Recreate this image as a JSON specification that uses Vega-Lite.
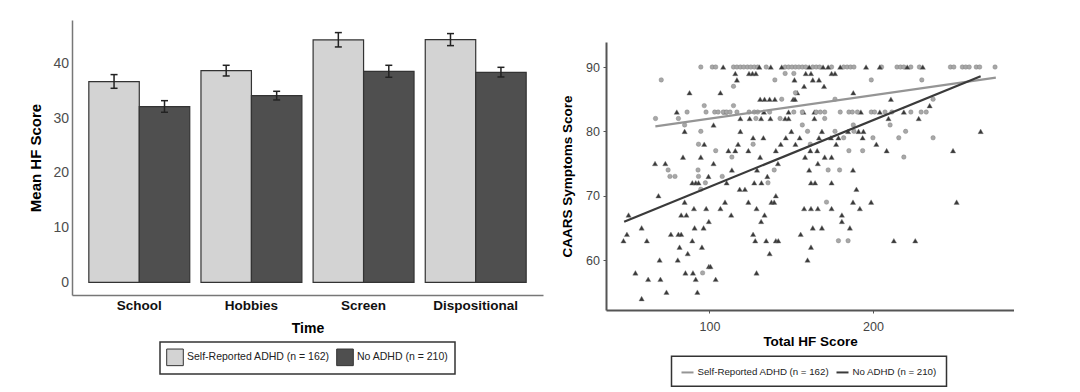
{
"$schema": "https://vega.github.io/schema/vega-lite/v6.json",
"background": "white",
"padding": {"left": 28, "top": 20, "right": 0, "bottom": 0},
"spacing": 17,
"config": {"view": {"stroke": null}, "font": "Liberation Sans", "axis": {"grid": false}},
"resolve": {"scale": {"color": "independent", "fill": "independent", "stroke": "independent"}, "legend": {"color": "independent", "fill": "independent", "stroke": "independent"}},
"datasets": {
"bars": [
{"time":"School","group":"Self-Reported ADHD (n = 162)","mean":36.65,"lo":35.43,"hi":37.93},
{"time":"School","group":"No ADHD (n = 210)","mean":32.08,"lo":31.05,"hi":33.17},
{"time":"Hobbies","group":"Self-Reported ADHD (n = 162)","mean":38.65,"lo":37.68,"hi":39.63},
{"time":"Hobbies","group":"No ADHD (n = 210)","mean":34.09,"lo":33.3,"hi":34.88},
{"time":"Screen","group":"Self-Reported ADHD (n = 162)","mean":44.26,"lo":42.98,"hi":45.6},
{"time":"Screen","group":"No ADHD (n = 210)","mean":38.53,"lo":37.44,"hi":39.63},
{"time":"Dispositional","group":"Self-Reported ADHD (n = 162)","mean":44.32,"lo":43.22,"hi":45.42},
{"time":"Dispositional","group":"No ADHD (n = 210)","mean":38.35,"lo":37.5,"hi":39.26}
],
"fits": [
{"x":66.9,"y":80.78,"g":"ADHD"},
{"x":275.2,"y":88.34,"g":"ADHD"},
{"x":47.8,"y":65.96,"g":"No ADHD"},
{"x":265.9,"y":88.55,"g":"No ADHD"}
],
"spacer": [{"s": 1}],
"scatter": [
{"x":94.7,"y":90,"g":"A"},{"x":101.7,"y":90,"g":"A"},{"x":103.8,"y":90,"g":"A"},{"x":114.7,"y":90,"g":"A"},{"x":116.8,"y":90,"g":"A"},{"x":118.9,"y":90,"g":"A"},{"x":121,"y":90,"g":"A"},{"x":123.2,"y":90,"g":"A"},{"x":125.3,"y":90,"g":"A"},{"x":127.4,"y":90,"g":"A"},{"x":129.5,"y":90,"g":"A"},{"x":134.7,"y":90,"g":"A"},{"x":146.3,"y":90,"g":"A"},{"x":148.4,"y":90,"g":"A"},{"x":150.5,"y":90,"g":"A"},{"x":152.6,"y":90,"g":"A"},{"x":154.7,"y":90,"g":"A"},{"x":156.8,"y":90,"g":"A"},{"x":158.9,"y":90,"g":"A"},{"x":163.2,"y":90,"g":"A"},{"x":165.3,"y":90,"g":"A"},{"x":167.4,"y":90,"g":"A"},{"x":174.7,"y":90,"g":"A"},{"x":182.1,"y":90,"g":"A"},{"x":184.2,"y":90,"g":"A"},{"x":186.3,"y":90,"g":"A"},{"x":188.4,"y":90,"g":"A"},{"x":205.3,"y":90,"g":"A"},{"x":214.7,"y":90,"g":"A"},{"x":216.8,"y":90,"g":"A"},{"x":218.9,"y":90,"g":"A"},{"x":223.2,"y":90,"g":"A"},{"x":228.4,"y":90,"g":"A"},{"x":247.4,"y":90,"g":"A"},{"x":249.5,"y":90,"g":"A"},{"x":254.7,"y":90,"g":"A"},{"x":256.8,"y":90,"g":"A"},{"x":258.9,"y":90,"g":"A"},{"x":263.2,"y":90,"g":"A"},{"x":265.3,"y":90,"g":"A"},{"x":274.7,"y":90,"g":"A"},
{"x":108.4,"y":90,"g":"N"},{"x":130.5,"y":90,"g":"N"},{"x":137.5,"y":90,"g":"N"},{"x":144.2,"y":90,"g":"N"},{"x":161,"y":90,"g":"N"},{"x":169.5,"y":90,"g":"N"},{"x":172.6,"y":90,"g":"N"},{"x":180,"y":90,"g":"N"},{"x":195.8,"y":90,"g":"N"},{"x":204.2,"y":90,"g":"N"},{"x":221,"y":90,"g":"N"},{"x":230.5,"y":90,"g":"N"},
{"x":115.8,"y":89,"g":"N"},{"x":124.2,"y":89,"g":"N"},{"x":126.3,"y":89,"g":"N"},{"x":128.4,"y":89,"g":"N"},{"x":158.9,"y":89,"g":"N"},{"x":162.1,"y":89,"g":"N"},{"x":174.7,"y":89,"g":"N"},{"x":176.8,"y":89,"g":"N"},{"x":146.3,"y":89,"g":"A"},{"x":151.6,"y":89,"g":"A"},
{"x":70.5,"y":88,"g":"A"},{"x":140,"y":88,"g":"A"},{"x":199,"y":88,"g":"A"},{"x":229.9,"y":88,"g":"A"},{"x":116.8,"y":88,"g":"N"},{"x":152,"y":88,"g":"N"},{"x":163.2,"y":88,"g":"N"},{"x":167,"y":88,"g":"N"},
{"x":114.7,"y":87,"g":"A"},{"x":157.9,"y":87,"g":"N"},{"x":170.1,"y":87,"g":"N"},
{"x":87.8,"y":86,"g":"N"},{"x":106.7,"y":86,"g":"N"},{"x":153.7,"y":86,"g":"N"},{"x":188,"y":86,"g":"N"},{"x":152.6,"y":86,"g":"A"},
{"x":131,"y":85,"g":"N"},{"x":133.7,"y":85,"g":"N"},{"x":136.8,"y":85,"g":"N"},{"x":140,"y":85,"g":"N"},{"x":151.2,"y":85,"g":"N"},{"x":152.3,"y":85,"g":"N"},{"x":211,"y":85,"g":"N"},{"x":144.2,"y":85,"g":"A"},{"x":176.8,"y":85,"g":"A"},{"x":236.8,"y":85,"g":"A"},
{"x":96.8,"y":84,"g":"A"},{"x":114.7,"y":84,"g":"A"},{"x":234.7,"y":84,"g":"N"},
{"x":80,"y":83,"g":"N"},{"x":109.5,"y":83,"g":"N"},{"x":133.3,"y":83,"g":"N"},{"x":148.4,"y":83,"g":"N"},{"x":157.5,"y":83,"g":"N"},{"x":164.2,"y":83,"g":"N"},{"x":192.6,"y":83,"g":"N"},{"x":204.2,"y":83,"g":"N"},{"x":218.9,"y":83,"g":"N"},
{"x":86.3,"y":83,"g":"A"},{"x":97.9,"y":83,"g":"A"},{"x":103.2,"y":83,"g":"A"},{"x":105.3,"y":83,"g":"A"},{"x":108.4,"y":83,"g":"A"},{"x":110.5,"y":83,"g":"A"},{"x":112.6,"y":83,"g":"A"},{"x":116.8,"y":83,"g":"A"},{"x":124.2,"y":83,"g":"A"},{"x":127.4,"y":83,"g":"A"},{"x":129.5,"y":83,"g":"A"},{"x":136.8,"y":83,"g":"A"},{"x":151.6,"y":83,"g":"A"},{"x":156.8,"y":83,"g":"A"},{"x":165.3,"y":83,"g":"A"},{"x":167.8,"y":83,"g":"A"},{"x":170.5,"y":83,"g":"A"},{"x":180,"y":83,"g":"A"},{"x":185.3,"y":83,"g":"A"},{"x":187.4,"y":83,"g":"A"},{"x":190.5,"y":83,"g":"A"},{"x":199,"y":83,"g":"A"},{"x":201,"y":83,"g":"A"},{"x":207.4,"y":83,"g":"A"},{"x":211.6,"y":83,"g":"A"},{"x":223.2,"y":83,"g":"A"},{"x":229.5,"y":83,"g":"A"},{"x":232.6,"y":83,"g":"A"},
{"x":67,"y":82,"g":"A"},{"x":81,"y":82,"g":"A"},{"x":128.4,"y":82,"g":"A"},{"x":143.2,"y":82,"g":"A"},{"x":170.5,"y":82,"g":"A"},
{"x":118.9,"y":82,"g":"N"},{"x":124.6,"y":82,"g":"N"},{"x":131.6,"y":82,"g":"N"},{"x":137.3,"y":82,"g":"N"},{"x":146.3,"y":82,"g":"N"},{"x":148.4,"y":82,"g":"N"},{"x":164.2,"y":82,"g":"N"},{"x":209.5,"y":82,"g":"N"},{"x":228,"y":82,"g":"N"},
{"x":84.8,"y":81,"g":"A"},{"x":156.8,"y":81,"g":"A"},{"x":188,"y":81,"g":"A"},{"x":210.5,"y":81,"g":"A"},{"x":102.5,"y":81,"g":"N"},
{"x":84.8,"y":80,"g":"N"},{"x":118.9,"y":80,"g":"N"},{"x":150.1,"y":80,"g":"N"},{"x":168.8,"y":80,"g":"N"},{"x":184.8,"y":80,"g":"N"},{"x":191.2,"y":80,"g":"N"},{"x":194.2,"y":80,"g":"N"},{"x":265.9,"y":80,"g":"N"},
{"x":94.7,"y":80,"g":"A"},{"x":160,"y":80,"g":"A"},{"x":176.8,"y":80,"g":"A"},{"x":188.4,"y":80,"g":"A"},{"x":220,"y":80,"g":"A"},
{"x":126.7,"y":79,"g":"N"},{"x":133,"y":79,"g":"N"},{"x":146.7,"y":79,"g":"N"},{"x":155.2,"y":79,"g":"N"},{"x":167,"y":79,"g":"N"},{"x":174.3,"y":79,"g":"N"},{"x":178.9,"y":79,"g":"N"},{"x":193.7,"y":79,"g":"N"},
{"x":182.1,"y":79,"g":"A"},{"x":200,"y":79,"g":"A"},{"x":215.8,"y":79,"g":"A"},{"x":236.8,"y":79,"g":"A"},
{"x":93.3,"y":78,"g":"A"},{"x":126.7,"y":78,"g":"A"},{"x":161.7,"y":78,"g":"A"},
{"x":96.8,"y":78,"g":"N"},{"x":117.5,"y":78,"g":"N"},{"x":143.6,"y":78,"g":"N"},{"x":152.6,"y":78,"g":"N"},{"x":177.5,"y":78,"g":"N"},{"x":202.1,"y":78,"g":"N"},
{"x":103.8,"y":77,"g":"A"},{"x":185.3,"y":77,"g":"A"},{"x":193.7,"y":77,"g":"A"},
{"x":111.6,"y":77,"g":"N"},{"x":115.8,"y":77,"g":"N"},{"x":123.8,"y":77,"g":"N"},{"x":140.6,"y":77,"g":"N"},{"x":161.7,"y":77,"g":"N"},{"x":165.9,"y":77,"g":"N"},{"x":208.4,"y":77,"g":"N"},{"x":249,"y":77,"g":"N"},
{"x":83.8,"y":76,"g":"N"},{"x":94.7,"y":76,"g":"N"},{"x":131,"y":76,"g":"N"},{"x":158.5,"y":76,"g":"N"},{"x":170.5,"y":76,"g":"N"},{"x":174.7,"y":76,"g":"N"},{"x":113.7,"y":76,"g":"A"},{"x":218.9,"y":76,"g":"A"},
{"x":66.7,"y":75,"g":"N"},{"x":73,"y":75,"g":"N"},{"x":102.5,"y":75,"g":"N"},{"x":141.9,"y":75,"g":"N"},{"x":166.3,"y":75,"g":"N"},
{"x":74.7,"y":74,"g":"A"},{"x":93,"y":74,"g":"A"},{"x":139.6,"y":74,"g":"A"},{"x":172.6,"y":74,"g":"A"},{"x":179.6,"y":74,"g":"A"},
{"x":113.7,"y":74,"g":"N"},{"x":129.1,"y":74,"g":"N"},{"x":161,"y":74,"g":"N"},{"x":187.8,"y":74,"g":"N"},
{"x":75.8,"y":73,"g":"A"},{"x":78.9,"y":73,"g":"A"},{"x":93.3,"y":73,"g":"A"},{"x":107.8,"y":73,"g":"A"},{"x":99.4,"y":73,"g":"N"},{"x":135.4,"y":73,"g":"N"},
{"x":89.5,"y":72,"g":"N"},{"x":91.6,"y":72,"g":"N"},{"x":93.3,"y":72,"g":"N"},{"x":110.5,"y":72,"g":"N"},{"x":127.4,"y":72,"g":"N"},{"x":131.8,"y":72,"g":"N"},{"x":162.1,"y":72,"g":"N"},{"x":164.6,"y":72,"g":"N"},{"x":174.7,"y":72,"g":"N"},{"x":97.5,"y":72,"g":"A"},{"x":135.8,"y":72,"g":"A"},
{"x":118.5,"y":71,"g":"N"},{"x":121.7,"y":71,"g":"N"},{"x":189.9,"y":71,"g":"N"},{"x":94.7,"y":71,"g":"A"},
{"x":68.8,"y":70,"g":"N"},{"x":140.6,"y":70,"g":"N"},
{"x":84.8,"y":69,"g":"N"},{"x":109.5,"y":69,"g":"N"},{"x":123.8,"y":69,"g":"N"},{"x":137.9,"y":69,"g":"N"},{"x":139.6,"y":69,"g":"N"},{"x":187.8,"y":69,"g":"N"},{"x":198.9,"y":69,"g":"N"},{"x":251.2,"y":69,"g":"N"},{"x":171.6,"y":69,"g":"A"},
{"x":90.5,"y":68,"g":"N"},{"x":98,"y":68,"g":"N"},{"x":106.7,"y":68,"g":"N"},{"x":128.8,"y":68,"g":"N"},{"x":157.9,"y":68,"g":"N"},{"x":162.1,"y":68,"g":"N"},{"x":166.3,"y":68,"g":"N"},{"x":174.7,"y":68,"g":"N"},{"x":192,"y":68,"g":"N"},
{"x":50.5,"y":67,"g":"N"},{"x":82.7,"y":67,"g":"N"},{"x":85.9,"y":67,"g":"N"},{"x":113.3,"y":67,"g":"N"},{"x":133.7,"y":67,"g":"N"},{"x":181,"y":67,"g":"N"},
{"x":99.6,"y":66,"g":"N"},{"x":131.6,"y":66,"g":"N"},{"x":181,"y":66,"g":"N"},
{"x":58.5,"y":65,"g":"N"},{"x":90.9,"y":65,"g":"N"},{"x":96.4,"y":65,"g":"N"},{"x":163.2,"y":65,"g":"N"},{"x":168.8,"y":65,"g":"N"},{"x":185.9,"y":65,"g":"N"},
{"x":49.5,"y":64,"g":"N"},{"x":76.4,"y":64,"g":"N"},{"x":81,"y":64,"g":"N"},{"x":82.7,"y":64,"g":"N"},{"x":126.7,"y":64,"g":"N"},{"x":155.8,"y":64,"g":"N"},
{"x":47.4,"y":63,"g":"N"},{"x":61.7,"y":63,"g":"N"},{"x":89.5,"y":63,"g":"N"},{"x":128,"y":63,"g":"N"},{"x":134.7,"y":63,"g":"N"},{"x":140.6,"y":63,"g":"N"},{"x":142.1,"y":63,"g":"N"},{"x":212.8,"y":63,"g":"N"},{"x":225.9,"y":63,"g":"N"},{"x":178.9,"y":63,"g":"A"},{"x":184.8,"y":63,"g":"A"},
{"x":81.7,"y":62,"g":"N"},{"x":95.4,"y":62,"g":"N"},{"x":162.1,"y":62,"g":"N"},
{"x":86.7,"y":61,"g":"N"},{"x":136.8,"y":61,"g":"N"},
{"x":69.5,"y":60,"g":"N"},{"x":80.6,"y":60,"g":"N"},{"x":160,"y":60,"g":"N"},
{"x":99.6,"y":59,"g":"N"},{"x":100.6,"y":59,"g":"N"},
{"x":54.7,"y":58,"g":"N"},{"x":85.3,"y":58,"g":"N"},{"x":89.9,"y":58,"g":"N"},{"x":128.8,"y":58,"g":"N"},{"x":95.8,"y":58,"g":"A"},
{"x":62.5,"y":57,"g":"N"},{"x":70,"y":57,"g":"N"},{"x":91.6,"y":57,"g":"N"},{"x":103.8,"y":57,"g":"N"},
{"x":73.7,"y":55,"g":"N"},{"x":92.6,"y":55,"g":"N"},
{"x":58.5,"y":54,"g":"N"}
]
},
"hconcat": [
{
"width": 471, "height": 275,
"data": {"name": "bars"},
"encoding": {
"x": {"field": "time", "type": "nominal", "sort": ["School","Hobbies","Screen","Dispositional"],
 "scale": {"paddingInner": 0.1, "paddingOuter": 0.15},
 "axis": {"title": "Time", "labelAngle": 0, "labelFontWeight": "bold", "labelFontSize": 13.5, "labelColor": "#111", "ticks": false, "labelPadding": 3, "titleFontSize": 14, "titleFontWeight": "bold", "titleColor": "#000", "titlePadding": 10, "domainColor": "#777", "domainWidth": 1.5}},
"xOffset": {"field": "group", "type": "nominal", "sort": ["Self-Reported ADHD (n = 162)", "No ADHD (n = 210)"], "scale": {"paddingInner": 0, "paddingOuter": 0}}
},
"layer": [
{"mark": {"type": "bar", "stroke": "#333", "strokeWidth": 1.2},
 "encoding": {
 "y": {"field": "mean", "type": "quantitative", "scale": {"domain": [-2.32, 47.9], "nice": false, "zero": false},
  "axis": {"values": [0,10,20,30,40], "title": "Mean HF Score", "titleFontSize": 15, "titleFontWeight": "bold", "titleColor": "#000", "titlePadding": 9, "labelFontSize": 14, "labelColor": "#4d4d4d", "labelPadding": 3.5, "ticks": false, "domainColor": "#777", "domainWidth": 1.5}},
 "y2": {"datum": 0},
 "fill": {"field": "group", "type": "nominal", "sort": ["Self-Reported ADHD (n = 162)", "No ADHD (n = 210)"],
  "scale": {"domain": ["Self-Reported ADHD (n = 162)", "No ADHD (n = 210)"], "range": ["#d3d3d3", "#4f4f4f"]},
  "legend": {"orient": "none", "legendX": 88, "legendY": 322, "direction": "horizontal", "title": null, "symbolType": "square", "symbolSize": 276, "symbolStrokeColor": "#333", "symbolStrokeWidth": 1, "symbolOpacity": 1, "labelFontSize": 10.5, "labelColor": "#222", "labelOffset": 3, "columnPadding": 4, "padding": 6, "strokeColor": "#333", "fillColor": "white",
   "encode": {"legend": {"update": {"strokeWidth": {"value": 1.5}}}}}}
 }},
{"mark": {"type": "rule", "color": "#222", "strokeWidth": 1.5},
 "encoding": {"y": {"field": "lo", "type": "quantitative"}, "y2": {"field": "hi"}}},
{"mark": {"type": "tick", "color": "#222", "size": 7, "thickness": 1.5, "opacity": 1},
 "encoding": {"y": {"field": "lo", "type": "quantitative"}}},
{"mark": {"type": "tick", "color": "#222", "size": 7, "thickness": 1.5, "opacity": 1},
 "encoding": {"y": {"field": "hi", "type": "quantitative"}}}
]
},
{
"spacing": 0,
"vconcat": [
{"width": 408, "height": 22, "data": {"name": "spacer"}, "mark": {"type": "point", "opacity": 0}, "encoding": {}},
{
"width": 408, "height": 268,
"encoding": {
"x": {"field": "x", "type": "quantitative", "scale": {"domain": [36.7, 286.3], "nice": false, "zero": false},
 "axis": {"values": [100, 200], "title": "Total HF Score", "titleFontSize": 13.5, "titleFontWeight": "bold", "titleColor": "#000", "titlePadding": 2, "labelFontSize": 12.5, "labelColor": "#444", "labelPadding": 7, "tickSize": 3, "tickColor": "#555", "domainColor": "#555", "domainWidth": 2}},
"y": {"field": "y", "type": "quantitative", "scale": {"domain": [52.23, 93.89], "nice": false, "zero": false},
 "axis": {"values": [60, 70, 80, 90], "title": "CAARS Symptoms Score", "titleFontSize": 13.5, "titleFontWeight": "bold", "titleColor": "#000", "titlePadding": 11, "labelFontSize": 12.5, "labelColor": "#444", "labelPadding": 3.5, "tickSize": 3, "tickColor": "#555", "domainColor": "#555", "domainWidth": 2}}
},
"layer": [
{"data": {"name": "scatter"},
 "mark": {"type": "point", "filled": true, "opacity": 1, "stroke": "#7a7a7a", "strokeWidth": 0.4},
 "encoding": {
 "color": {"field": "g", "type": "nominal", "scale": {"domain": ["A", "N"], "range": ["#a8a8a8", "#383838"]}, "legend": null},
 "shape": {"field": "g", "type": "nominal", "scale": {"domain": ["A", "N"], "range": ["circle", "triangle-up"]}, "legend": null},
 "size": {"field": "g", "type": "nominal", "scale": {"domain": ["A", "N"], "range": [20, 28]}, "legend": null}
 }},
{"data": {"name": "fits"},
 "mark": {"type": "line", "strokeWidth": 2.2},
 "encoding": {
 "stroke": {"field": "g", "type": "nominal",
  "scale": {"domain": ["ADHD", "No ADHD"], "range": ["#959595", "#3a3a3a"]},
  "legend": {"orient": "none", "legendX": 65.5, "legendY": 336.3, "direction": "horizontal", "title": null, "symbolType": "stroke", "symbolSize": 144, "symbolStrokeWidth": 2, "labelFontSize": 9.7, "labelColor": "#222", "labelOffset": 3, "columnPadding": 3, "padding": 9, "strokeColor": "#333", "fillColor": "white",
   "labelExpr": "datum.label == 'ADHD' ? 'Self-Reported ADHD (n = 162)' : 'No ADHD (n = 210)'",
   "encode": {"legend": {"update": {"strokeWidth": {"value": 1.5}}}}}}
 }}
]
}
]
}
]
}
